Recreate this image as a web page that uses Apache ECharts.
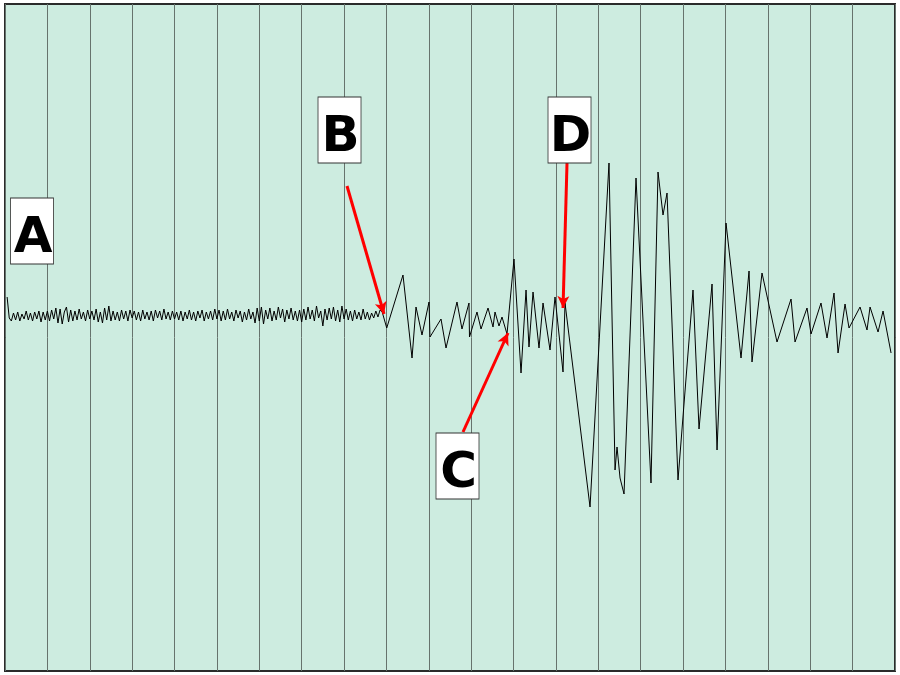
<!DOCTYPE html>
<html>
<head>
<meta charset="utf-8">
<style>html,body{margin:0;padding:0;background:#fff}#c{width:900px;height:675px}</style>
<script src="https://cdn.jsdelivr.net/npm/echarts@6/dist/echarts.min.js"></script>
</head>
<body>
<div id="c"></div>
<script>
// Seismogram trace: background noise (sampled uniformly), then arrivals
var noiseStart = 0.05;   // s
var noiseStep = 0.05;    // s per sample
var noiseAmp = [
 1.8,-0.3,-0.6,0.2,-0.5,0.3,-0.6,0.1,-0.4,0.4,-0.5,0.2,-0.6,0.3,-0.4,0.4,-0.7,0.3,-0.5,0.4,
 -0.6,0.5,-0.4,0.7,-0.8,0.6,-0.9,0.3,0.8,-0.7,0.5,-0.6,0.4,-0.5,0.6,-0.4,0.3,-0.6,0.5,-0.4,
 0.4,-0.5,0.6,-0.7,0.3,-0.8,0.7,-0.5,0.9,-0.6,0.4,-0.5,0.3,-0.6,0.5,-0.4,0.4,-0.6,0.5,-0.3,
 0.4,-0.5,0.3,-0.6,0.5,-0.4,0.3,-0.5,0.4,-0.6,0.5,-0.3,0.4,-0.5,0.6,-0.4,0.3,-0.5,0.4,-0.4,
 0.3,-0.5,0.4,-0.6,0.3,-0.4,0.5,-0.5,0.3,-0.6,0.4,-0.3,0.5,-0.6,0.3,-0.4,0.4,-0.5,0.6,-0.4,
 0.5,-0.6,0.4,-0.5,0.6,-0.4,0.3,-0.6,0.5,-0.3,0.4,-0.7,0.3,-0.5,0.6,-0.4,0.3,-0.8,0.7,-0.6,
 0.8,-0.9,0.5,-0.4,0.7,-0.6,0.4,-0.5,0.8,-0.3,0.6,-0.7,0.5,-0.4,0.7,-0.5,0.4,-0.6,0.5,-0.7,
 0.6,-0.5,0.8,-0.4,0.5,-0.6,0.9,-0.3,0.4,-1.1,0.6,-0.5,0.7,-0.4,0.8,-0.6,0.5,-0.7,0.9,-0.4,
 0.6,-0.5,0.4,-0.6,0.5,-0.4,0.3,-0.5,0.6,-0.4,0.3,-0.5,0.2,-0.3,0.4,-0.2,0.5,0.3
];
var mainTime = [
 9.007,9.391,9.604,9.698,9.839,10.005,10.028,10.288,10.406,10.665,
 10.783,10.948,10.96,11.137,11.232,11.397,11.515,11.562,11.656,11.727,
 11.845,12.010,12.176,12.294,12.364,12.459,12.600,12.695,12.860,12.978,
 13.167,13.214,13.804,14.252,14.394,14.441,14.512,14.606,14.889,15.243,
 15.408,15.526,15.621,15.880,16.234,16.376,16.683,16.801,17.013,17.367,
 17.556,17.626,17.862,18.216,18.547,18.641,18.924,19.019,19.254,19.396,
 19.561,19.656,19.821,19.915,20.175,20.340,20.411,20.600,20.718,20.907
];
var mainAmp = [
 -1.3,4.0,-4.3,0.8,-2.0,1.3,-2.2,-0.4,-3.3,1.3,
 -1.4,1.2,-2.2,0.3,-1.4,0.7,-1.2,0.3,-1.1,-0.2,
 -1.9,5.6,-5.8,2.5,-3.2,2.3,-3.3,1.2,-3.5,1.8,
 -5.7,1.2,-19.2,15.2,-15.5,-13.2,-16.3,-17.9,13.7,-16.8,
 14.3,10.0,12.2,-16.5,2.5,-11.4,3.1,-13.5,9.2,-4.3,
 4.4,-4.7,4.2,-2.7,1.6,-2.7,0.7,-1.9,1.2,-2.3,
 2.2,-3.8,1.1,-1.3,0.8,-1.5,0.8,-1.7,0.4,-3.8
];
var labelNames = ['A','B','C','D'];
var labelTime = [0.637, 7.893, 10.677, 13.32];
var labelAmp = [8.4, 18.5, -15.1, 18.5];
var arrowFrom = [[8.07,12.9],[10.807,-11.7],[13.261,15.2]];
var arrowTo = [[8.943,0.1],[11.869,-1.8],[13.167,0.7]];
var timeMin = 0, timeMax = 21, timeStep = 1;
var ampMin = -35.6, ampMax = 31.1;

var trace = [];
for (var i = 0; i < noiseAmp.length; i++) trace.push([+(noiseStart + i*noiseStep).toFixed(3), noiseAmp[i]]);
for (var j = 0; j < mainTime.length; j++) trace.push([mainTime[j], mainAmp[j]]);

var chart = echarts.init(document.getElementById('c'), null, {renderer:'canvas'});
chart.setOption({
  animation: false,
  backgroundColor: '#ffffff',
  grid: {left:5, right:5, top:4, bottom:4, show:true, backgroundColor:'#cdece0', borderColor:'#2b2b2b', borderWidth:2},
  xAxis: {type:'value', min:timeMin, max:timeMax, interval:timeStep, z:3,
    axisLine:{show:false}, axisTick:{show:false}, axisLabel:{show:false},
    splitLine:{show:true, lineStyle:{color:'#66736d', width:1}}},
  yAxis: {type:'value', min:ampMin, max:ampMax,
    axisLine:{show:false}, axisTick:{show:false}, axisLabel:{show:false}, splitLine:{show:false}},
  series: [{
    type:'line', data: trace, showSymbol:false, symbol:'none',
    lineStyle:{color:'#000', width:1}, silent:true,
    markPoint: {
      silent:true, animation:false,
      symbol:'rect', symbolSize:[43,66],
      itemStyle:{color:'#ffffff', borderColor:'#333', borderWidth:1},
      label:{show:true, position:'inside', color:'#000', fontSize:50, fontWeight:'bold', fontFamily:'DejaVu Sans', offset:[1,8]},
      data: labelNames.map(function(n,k){return {name:n, coord:[labelTime[k], labelAmp[k]], label:{formatter:n}};})
    },
    markLine: {
      silent:true, animation:false,
      symbol:['none','arrow'], symbolSize:[9,12],
      lineStyle:{color:'#ff0000', width:3, type:'solid'},
      label:{show:false},
      data: arrowFrom.map(function(f,k){return [{coord:f},{coord:arrowTo[k]}];})
    }
  }]
});
</script>
</body>
</html>
